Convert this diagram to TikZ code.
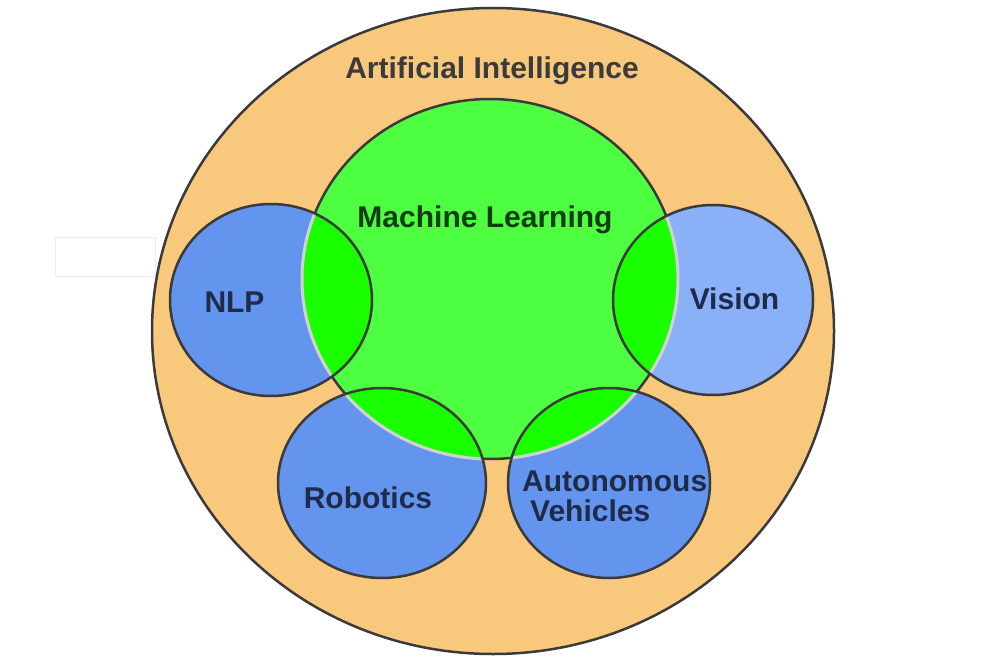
\documentclass[tikz,border=0pt]{standalone}
\usepackage{fontspec}
\setmainfont{Liberation Sans}
\usetikzlibrary{positioning}

\definecolor{aiorange}{HTML}{F8C97C}
\definecolor{mlgreen}{HTML}{4EFF41}
\definecolor{mlbright}{HTML}{1AFF00}
\definecolor{subblue}{HTML}{6495EE}
\definecolor{visionblue}{HTML}{8AB1F7}
\definecolor{edgegray}{HTML}{3A3A3A}
\definecolor{ringgray}{HTML}{D2D2D2}
\definecolor{titlegray}{HTML}{3B3B3B}
\definecolor{mltext}{HTML}{143C14}
\definecolor{subtext}{HTML}{1E2B4A}

\begin{document}
\begin{tikzpicture}[
    x=1pt, y=-1pt,
    outline/.style={draw=edgegray, line width=2.5pt},
    label/.style={font=\fontsize{30}{30}\selectfont\bfseries, inner sep=0pt}
]
\useasboundingbox (0,0) rectangle (992,666);
\fill[white] (0,0) rectangle (992,666);

% empty box on the left
\draw[draw=black!8, line width=1pt] (55,237) rectangle (155,276);

% Artificial Intelligence
\fill[aiorange] (493,331) ellipse [x radius=341pt, y radius=323pt];
\draw[outline] (493,331) ellipse [x radius=341pt, y radius=323pt];

% Machine Learning
\fill[mlgreen] (490,279) ellipse [x radius=188pt, y radius=180pt];
\draw[outline] (490,279) ellipse [x radius=188pt, y radius=180pt];

% Sub fields and their overlap with Machine Learning
\foreach \cx/\cy/\rx/\ry/\col in {271/300/101/96/subblue, 713/300/100/95/visionblue, 382/483/104/95/subblue, 609/483/101/95/subblue} {
    \fill[\col] (\cx,\cy) ellipse [x radius=\rx pt, y radius=\ry pt];
    \begin{scope}
        \clip (\cx,\cy) ellipse [x radius=\rx pt, y radius=\ry pt];
        \fill[mlbright] (490,279) ellipse [x radius=188pt, y radius=180pt];
        \draw[ringgray, line width=3pt] (490,279) ellipse [x radius=188pt, y radius=180pt];
    \end{scope}
    \draw[outline] (\cx,\cy) ellipse [x radius=\rx pt, y radius=\ry pt];
}

% Labels
\node[label, text=titlegray, anchor=base] (ai) at (492,79) {Artificial Intelligence};
\node[label, text=mltext, anchor=base] (ml) at (485,227) {Machine Learning};
\node[label, text=subtext, anchor=base] (nlp) at (234.5,312) {NLP};
\node[label, text=subtext, anchor=base] (vision) at (734.5,309) {Vision};
\node[label, text=subtext, anchor=base] (robotics) at (368,508) {Robotics};
\node[label, text=subtext, align=left, anchor=north west] (av) at (522,471) {Autonomous\\\hspace*{8pt}Vehicles};

\end{tikzpicture}
\end{document}
